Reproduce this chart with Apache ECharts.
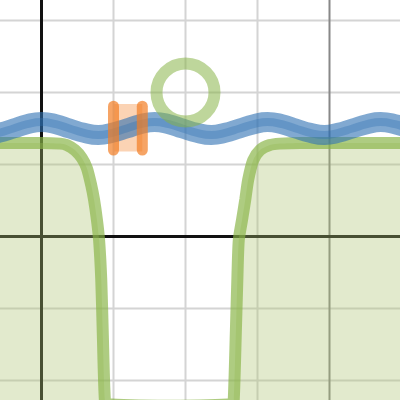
<!DOCTYPE html>
<html>
<head>
<meta charset="utf-8">
<script src="https://cdn.jsdelivr.net/npm/echarts@6/dist/echarts.min.js"></script>
<style>
html,body{margin:0;padding:0;background:#fff;}
#chart{width:400px;height:400px;}
</style>
</head>
<body>
<div id="chart"></div>
<script>
// ---- data (graph units) ----
var xMinorGrid = [1, 2, 3];
var xMajorGrid = [4];
var yMinorGrid = [-2, -1, 1, 2, 3];
var xAxisLine = [0];
var yAxisLine = [0];

// wave (blue)
var waveX = [-0.79,-0.59,-0.39,-0.20,0,0.20,0.39,0.59,0.79,0.98,1.18,1.37,1.57,1.77,1.96,2.16,2.36,2.55,2.75,2.95,3.14,3.34,3.53,3.73,3.93,4.12,4.32,4.52,4.71,4.91,5.10];
var waveY = [1.41,1.44,1.50,1.56,1.59,1.56,1.50,1.44,1.41,1.44,1.50,1.56,1.59,1.56,1.50,1.44,1.41,1.44,1.50,1.56,1.59,1.56,1.50,1.44,1.41,1.44,1.50,1.56,1.59,1.56,1.50];

// dip curve (green, shaded below)
var dipX = [-0.9,0,0.26,0.35,0.465,0.56,0.63,0.69,0.73,0.77,0.80,0.83,0.85,0.88,0.91,1.77,2.65,2.67,2.70,2.72,2.74,2.785,2.83,2.87,2.94,3.035,3.17,3.31,3.59,5.3];
var dipY = [1.30,1.30,1.29,1.27,1.20,1.09,0.95,0.715,0.51,0.23,-0.05,-0.60,-1.30,-2.27,-2.33,-2.35,-2.33,-2.27,-1.30,-0.60,-0.05,0.23,0.51,0.785,1.06,1.20,1.27,1.29,1.30,1.30];

// orange region
var boxX = [1, 1.4];
var boxY = [1.18, 1.84];
var barY = [1.2, 1.81];

// ring
var ringCenter = [2, 2];

function zip(a, b){ var r=[]; for (var i=0;i<a.length;i++) r.push([a[i], b[i]]); return r; }

var chart = echarts.init(document.getElementById('chart'));

var series = [];
function vLine(v, color, width){
  series.push({type:'line', z:1, silent:true, showSymbol:false, clip:true,
    data:[[v,-10],[v,10]], lineStyle:{color:color, width:width}});
}
function hLine(v, color, width){
  series.push({type:'line', z:1, silent:true, showSymbol:false, clip:true,
    data:[[-10,v],[10,v]], lineStyle:{color:color, width:width}});
}
xMinorGrid.forEach(function(v){ vLine(v, '#d4d4d4', 2); });
yMinorGrid.forEach(function(v){ hLine(v, '#d4d4d4', 2); });
xMajorGrid.forEach(function(v){ vLine(v, '#888888', 2); });
xAxisLine.forEach(function(v){ vLine(v, '#111111', 3); });
yAxisLine.forEach(function(v){ hLine(v, '#111111', 3); });

series.push(
  {
    type:'line', z:10, data: zip(dipX, dipY), showSymbol:false, smooth:0.25,
    lineStyle:{color:'rgba(135,180,70,0.68)', width:12},
    areaStyle:{color:'rgba(172,196,112,0.5)', origin:'start'}
  },
  {
    type:'line', z:11, data: zip(waveX, waveY), showSymbol:false, smooth:true,
    lineStyle:{color:'rgba(45,112,179,0.6)', width:20}
  },
  {
    type:'line', z:12, data: zip(waveX, waveY), showSymbol:false, smooth:true,
    lineStyle:{color:'rgba(45,112,179,0.35)', width:8}
  },
  {
    type:'line', z:13, data: [[boxX[0], barY[0]], [boxX[0], barY[1]]], showSymbol:false,
    lineStyle:{color:'rgba(242,125,35,0.7)', width:11, cap:'round'},
    markArea: {silent:true, itemStyle:{color:'rgba(242,125,35,0.34)'},
      data: [[{coord:[boxX[0], boxY[0]]}, {coord:[boxX[1], boxY[1]]}]]}
  },
  {
    type:'line', z:13, data: [[boxX[1], barY[0]], [boxX[1], barY[1]]], showSymbol:false,
    lineStyle:{color:'rgba(242,125,35,0.7)', width:11, cap:'round'}
  },
  {
    type:'scatter', z:14, data: [ringCenter], symbol:'circle', symbolSize:58,
    itemStyle:{color:'rgba(0,0,0,0)', borderColor:'rgba(135,180,70,0.68)', borderWidth:12}
  }
);

var option = {
  animation: false,
  backgroundColor: '#ffffff',
  grid: {left:0, right:0, top:0, bottom:0, containLabel:false},
  xAxis: {type:'value', min: -41.5/72, max: 358.5/72, show:false, splitLine:{show:false}},
  yAxis: {type:'value', min: -163.5/72, max: 236.5/72, show:false, splitLine:{show:false}},
  series: series
};
chart.setOption(option);
</script>
</body>
</html>
